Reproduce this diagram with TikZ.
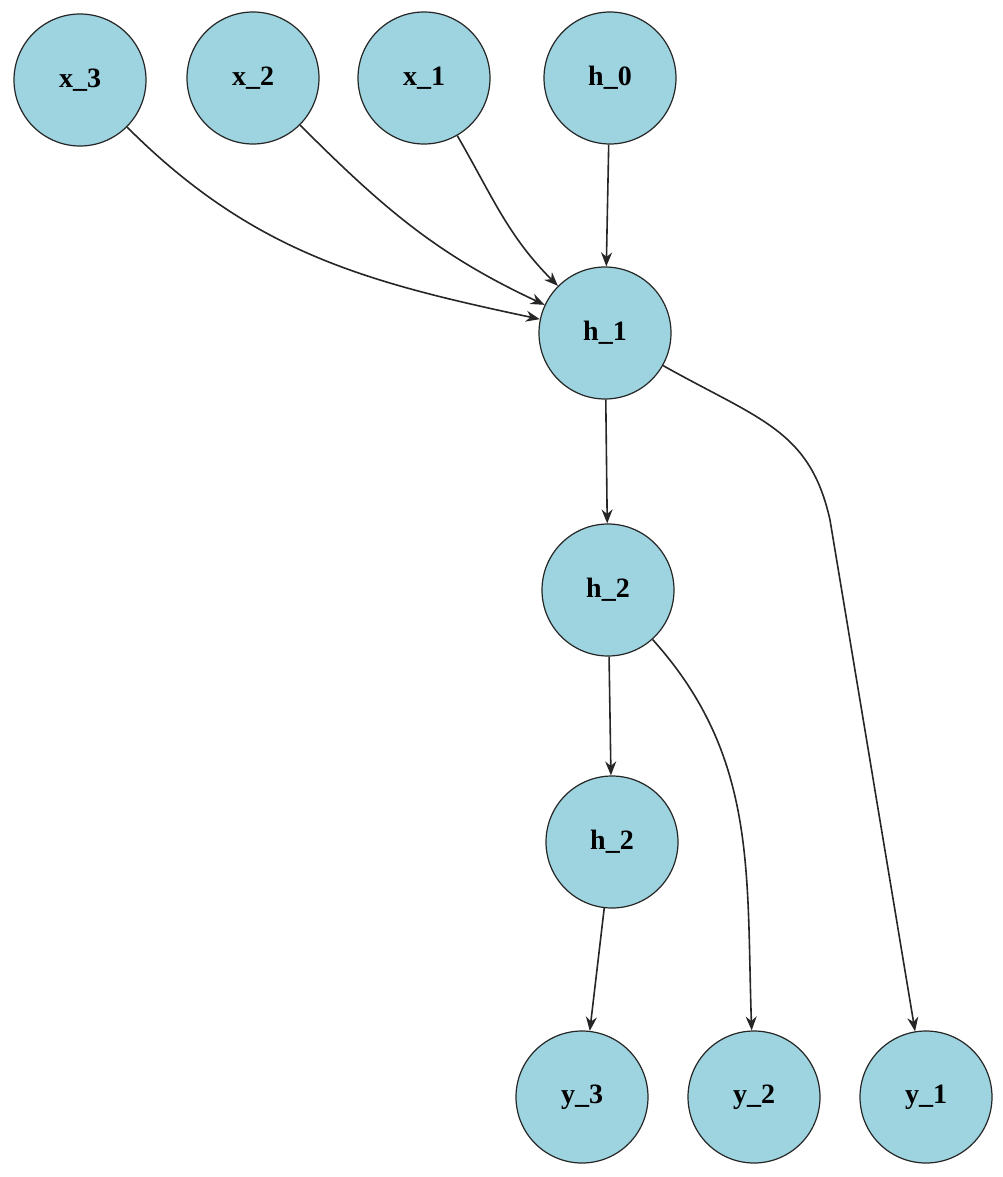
\documentclass[tikz,border=0pt]{standalone}
\usepackage{fontspec}
\setmainfont{Liberation Serif}
\usetikzlibrary{arrows.meta}
\begin{document}
\begin{tikzpicture}[x=1pt,y=-1pt,
  nd/.style={circle,draw=black!85,line width=1.2pt,fill={rgb,255:red,157;green,212;blue,224},minimum size=132pt,inner sep=0pt,font=\fontsize{28}{30}\selectfont\bfseries},
  ed/.style={draw=black!85,line width=1.6pt,-{Stealth[length=14pt,width=11pt]}}]
\useasboundingbox (0,0) rectangle (1003,1177);
\node[nd] (x3) at (80,80) {x\_3};
\node[nd] (x2) at (253,78) {x\_2};
\node[nd] (x1) at (424,78) {x\_1};
\node[nd] (h0) at (610,78) {h\_0};
\node[nd] (h1) at (605,333) {h\_1};
\node[nd] (h2) at (608,590) {h\_2};
\node[nd] (h2b) at (612,842) {h\_2};
\node[nd] (y3) at (582,1097) {y\_3};
\node[nd] (y2) at (754,1097) {y\_2};
\node[nd] (y1) at (926,1097) {y\_1};
\draw[ed] (x3) to[out=-45,in=168] (h1);
\draw[ed] (x2) to[out=-45,in=155] (h1);
\draw[ed] (x1) to[out=-60,in=135] (h1);
\draw[ed] (h0) -- (h1);
\draw[ed] (h1) -- (h2);
\draw[ed] (h2) -- (h2b);
\draw[ed] (h2b) -- (y3);
\draw[ed] (h2) to[out=-48,in=92] (y2);
\draw[ed] (h1) .. controls (760,420) and (810,430) .. (830,520) -- (y1);
\end{tikzpicture}
\end{document}
